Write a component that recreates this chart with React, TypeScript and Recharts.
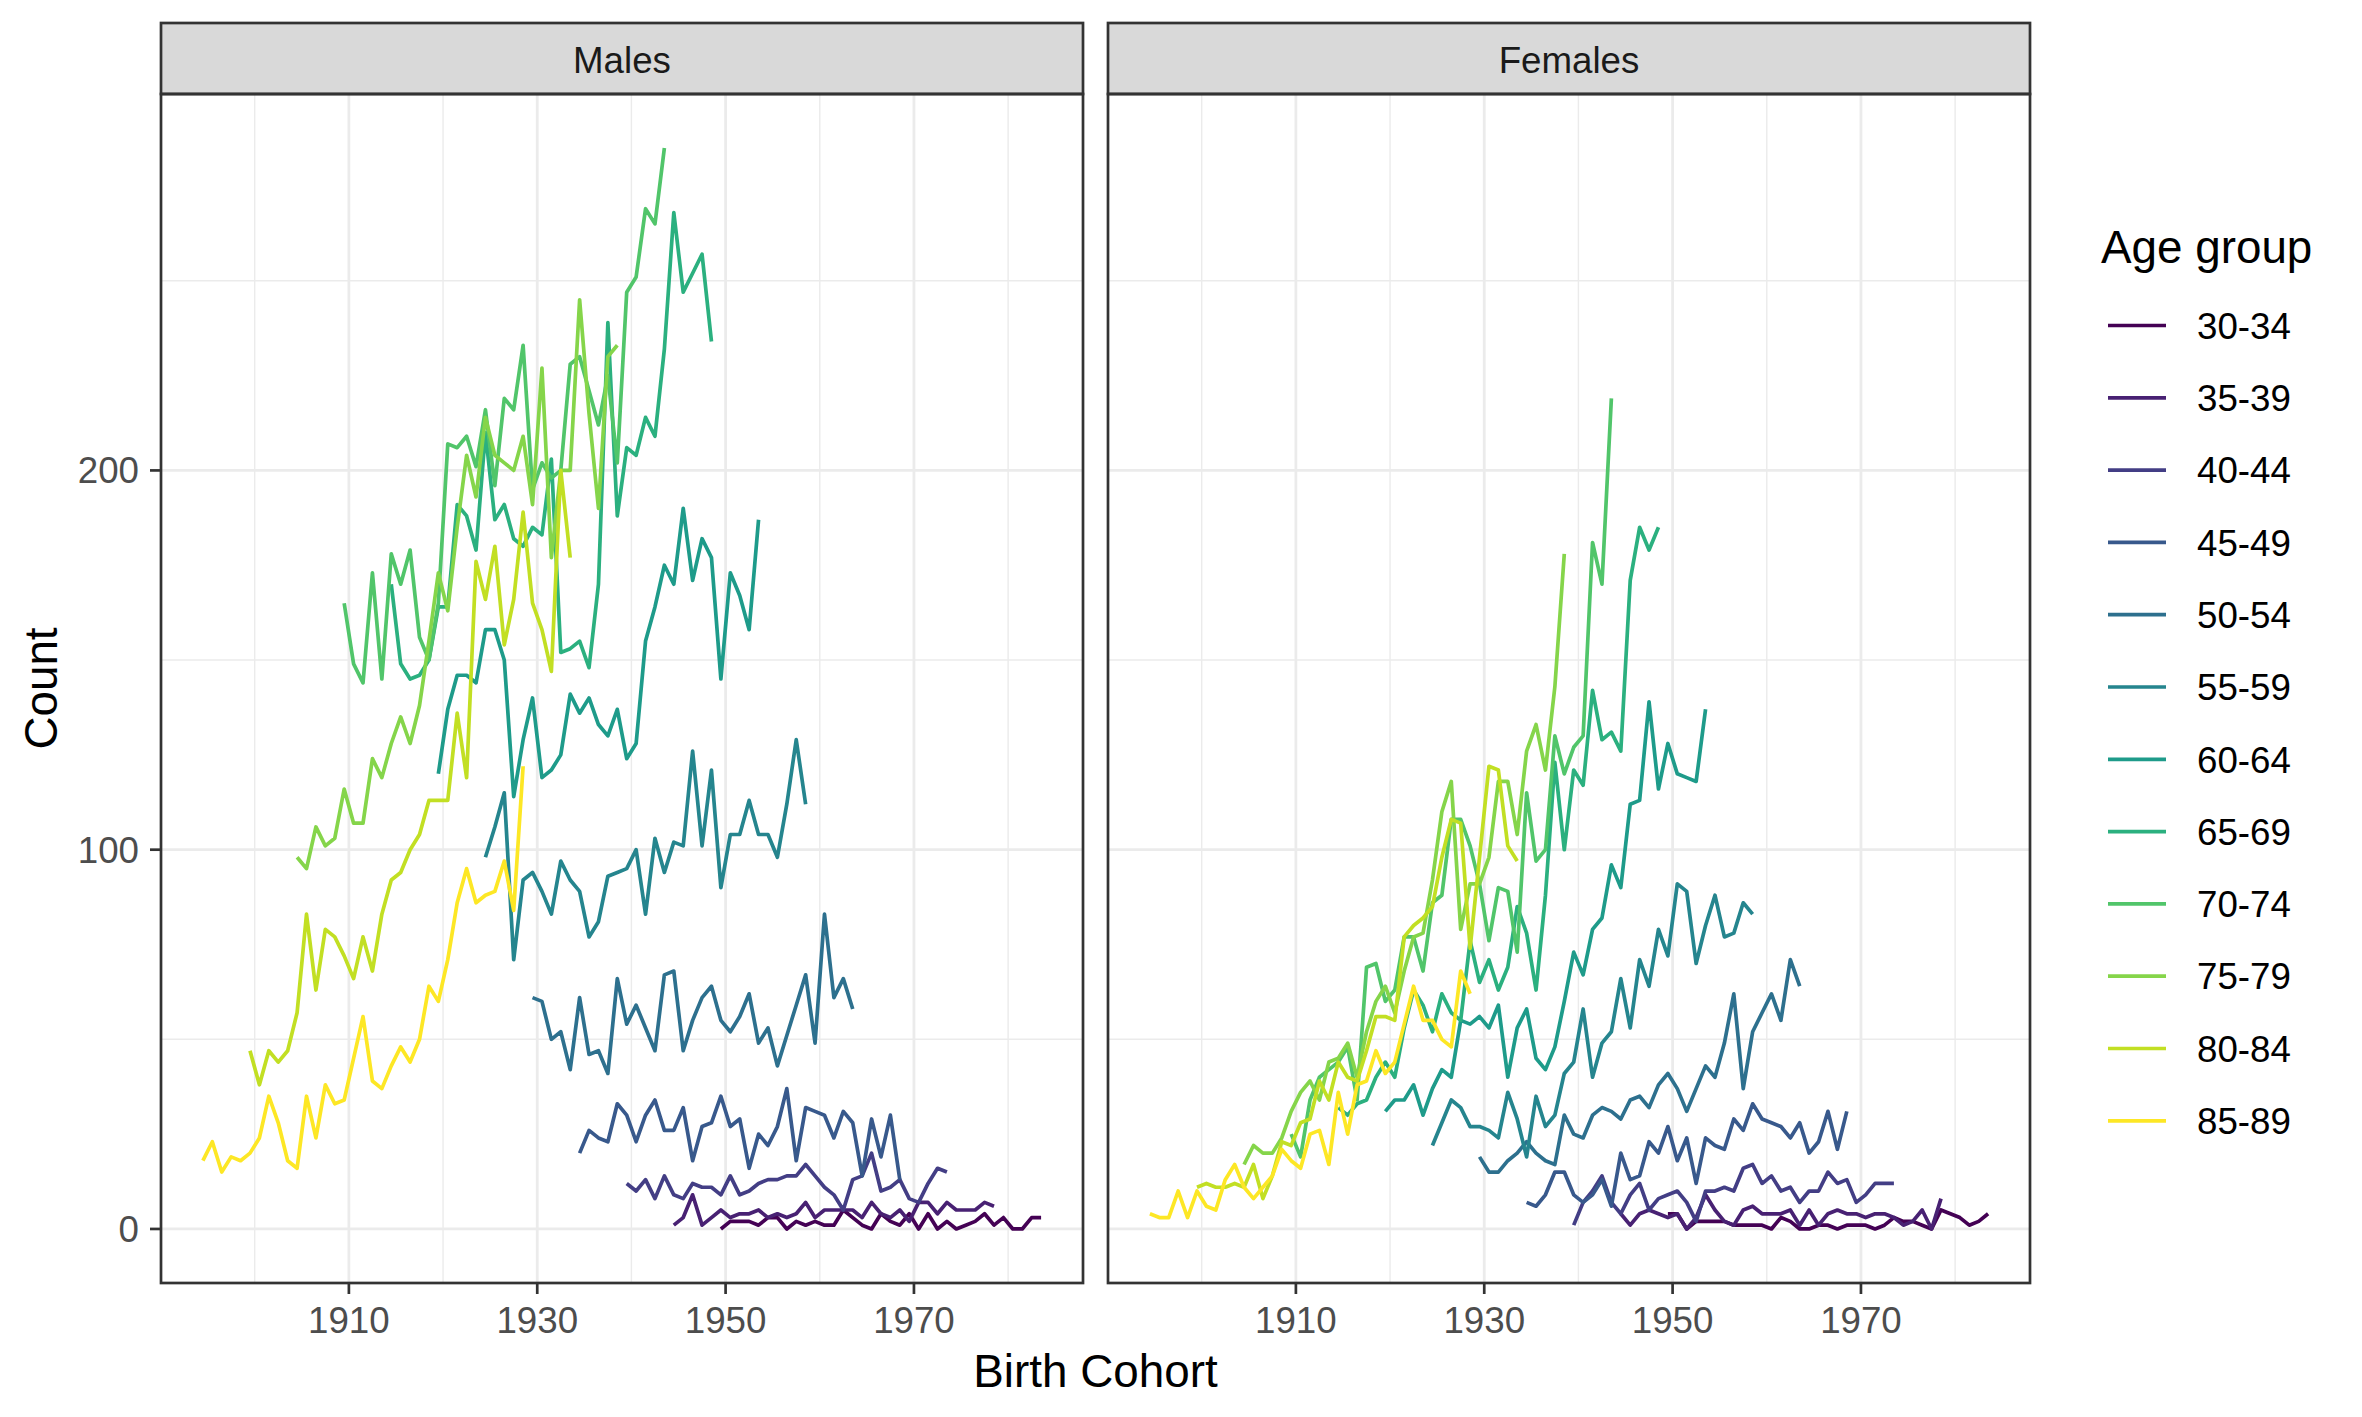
import React from 'react';
import { LineChart, Line, XAxis, YAxis, CartesianGrid } from 'recharts';

const AGE_GROUPS = ['30-34', '35-39', '40-44', '45-49', '50-54', '55-59', '60-64', '65-69', '70-74', '75-79', '80-84', '85-89'];
const GROUP_COLORS = ['#440154', '#482173', '#433E85', '#38598C', '#2D708E', '#25858E', '#1E9B8A', '#2BB07F', '#51C56A', '#85D54A', '#C2DF23', '#FDE725'];
// first birth cohort of each age group; every group covers 35 consecutive cohorts
const FIRST_COHORT = [1949.5, 1944.5, 1939.5, 1934.5, 1929.5, 1924.5, 1919.5, 1914.5, 1909.5, 1904.5, 1899.5, 1894.5];

const X_TICKS = [1910, 1930, 1950, 1970];
const X_MINOR = [1900, 1920, 1940, 1960, 1980];
const Y_TICKS = [0, 100, 200];
const Y_MINOR = [50, 150, 250];

// Males, counts by birth cohort
const males3034 = [0, 2, 2, 2, 1, 3, 3, 0, 2, 1, 2, 1, 1, 5, 3, 1, 0, 4, 2, 1, 4, 0, 4, 0, 2, 0, 1, 2, 4, 1, 3, 0, 0, 3, 3];
const males3539 = [1, 3, 9, 1, 3, 5, 3, 4, 4, 5, 3, 4, 3, 4, 7, 3, 5, 5, 5, 5, 3, 7, 4, 3, 5, 2, 7, 7, 4, 7, 5, 5, 5, 7, 6];
const males4044 = [12, 10, 13, 8, 14, 9, 8, 12, 11, 11, 9, 14, 9, 10, 12, 13, 13, 14, 14, 17, 14, 11, 9, 5, 13, 14, 20, 10, 11, 13, 8, 7, 12, 16, 15];
const males4549 = [20, 26, 24, 23, 33, 30, 23, 30, 34, 26, 26, 32, 18, 27, 28, 35, 27, 29, 16, 25, 22, 27, 37, 18, 32, 31, 30, 24, 31, 28, 14, 29, 19, 30, 13];
const males5054 = [61, 60, 50, 52, 42, 61, 46, 47, 41, 66, 54, 59, 53, 47, 67, 68, 47, 55, 61, 64, 55, 52, 56, 62, 49, 53, 43, 51, 59, 67, 49, 83, 61, 66, 58];
const males5559 = [98, 106, 115, 71, 92, 94, 89, 83, 97, 92, 89, 77, 81, 93, 94, 95, 100, 83, 103, 94, 102, 101, 126, 101, 121, 90, 104, 104, 113, 104, 104, 98, 112, 129, 112];
const males6064 = [120, 137, 146, 146, 144, 158, 158, 150, 114, 129, 140, 119, 121, 125, 141, 136, 140, 133, 130, 137, 124, 128, 155, 164, 175, 170, 190, 171, 182, 177, 145, 173, 167, 158, 187];
const males6569 = [170, 149, 145, 146, 150, 164, 164, 191, 188, 179, 210, 187, 191, 182, 180, 185, 183, 203, 152, 153, 155, 148, 170, 239, 188, 206, 204, 214, 209, 232, 268, 247, 252, 257, 234];
const males7074 = [165, 149, 144, 173, 145, 178, 170, 179, 156, 150, 165, 207, 206, 209, 201, 216, 196, 219, 216, 233, 195, 202, 198, 200, 228, 230, 221, 212, 225, 202, 247, 251, 269, 265, 285];
const males7579 = [98, 95, 106, 101, 103, 116, 107, 107, 124, 119, 128, 135, 128, 138, 155, 173, 163, 185, 204, 193, 214, 204, 202, 200, 209, 191, 227, 177, 200, 200, 245, 215, 190, 230, 233];
const males8084 = [47, 38, 47, 44, 47, 57, 83, 63, 79, 77, 72, 66, 77, 68, 83, 92, 94, 100, 104, 113, 113, 113, 136, 119, 176, 166, 180, 154, 166, 189, 165, 158, 147, 200, 177];
const males8589 = [18, 23, 15, 19, 18, 20, 24, 35, 28, 18, 16, 35, 24, 38, 33, 34, 45, 56, 39, 37, 43, 48, 44, 50, 64, 60, 71, 86, 95, 86, 88, 89, 97, 84, 122];

// Females, counts by birth cohort
const females3034 = [4, 4, 0, 2, 2, 2, 2, 1, 1, 1, 1, 0, 3, 2, 0, 0, 1, 1, 0, 1, 1, 1, 0, 1, 3, 2, 2, 1, 0, 5, 4, 3, 1, 2, 4];
const females3539 = [4, 1, 4, 5, 4, 3, 4, 0, 3, 9, 5, 2, 1, 5, 6, 4, 4, 4, 5, 1, 5, 1, 4, 5, 4, 4, 3, 4, 4, 3, 1, 2, 5, 0, 8];
const females4044 = [1, 7, 10, 14, 7, 4, 9, 12, 5, 8, 9, 10, 7, 2, 10, 10, 11, 10, 16, 17, 12, 14, 10, 11, 7, 10, 10, 15, 12, 13, 7, 9, 12, 12, 12];
const females4549 = [7, 6, 9, 15, 15, 9, 7, 9, 13, 6, 20, 13, 14, 23, 20, 27, 18, 24, 12, 24, 22, 21, 29, 26, 33, 29, 28, 27, 24, 28, 20, 23, 31, 21, 31];
const females5054 = [19, 15, 15, 18, 20, 23, 20, 18, 17, 30, 25, 24, 30, 32, 31, 29, 34, 35, 32, 38, 41, 37, 31, 37, 43, 40, 49, 62, 37, 52, 57, 62, 55, 71, 64];
const females5559 = [22, 28, 34, 32, 27, 27, 26, 24, 36, 29, 19, 35, 27, 30, 41, 44, 58, 40, 49, 52, 66, 53, 71, 64, 79, 72, 91, 89, 70, 80, 88, 77, 78, 86, 83];
const females6064 = [31, 34, 34, 38, 30, 37, 42, 40, 55, 54, 56, 53, 59, 40, 53, 58, 45, 42, 48, 60, 73, 67, 79, 82, 96, 90, 112, 113, 139, 116, 128, 120, 119, 118, 137];
const females6569 = [32, 30, 33, 34, 40, 44, 40, 53, 63, 59, 52, 62, 57, 55, 76, 65, 71, 63, 69, 85, 78, 63, 88, 123, 100, 121, 117, 142, 129, 131, 126, 171, 185, 179, 185];
const females7074 = [25, 19, 34, 40, 42, 44, 48, 34, 69, 70, 60, 63, 77, 77, 68, 86, 88, 108, 108, 101, 91, 76, 90, 89, 73, 115, 97, 100, 130, 120, 127, 130, 181, 170, 219];
const females7579 = [17, 22, 20, 20, 24, 31, 36, 39, 34, 44, 45, 49, 40, 52, 60, 64, 57, 68, 77, 78, 92, 110, 118, 79, 91, 91, 98, 118, 118, 104, 126, 133, 121, 143, 178];
const females8084 = [11, 12, 11, 11, 12, 11, 17, 8, 14, 23, 22, 28, 29, 39, 34, 44, 40, 39, 47, 56, 56, 55, 77, 80, 82, 85, 98, 108, 107, 74, 98, 122, 121, 101, 97];
const females8589 = [4, 3, 3, 10, 3, 10, 6, 5, 13, 17, 11, 8, 11, 14, 21, 18, 16, 25, 26, 17, 36, 25, 38, 39, 47, 41, 44, 54, 64, 55, 55, 50, 48, 68, 62];

const MALES = [males3034, males3539, males4044, males4549, males5054, males5559, males6064, males6569, males7074, males7579, males8084, males8589];
const FEMALES = [females3034, females3539, females4044, females4549, females5054, females5559, females6064, females6569, females7074, females7579, females8084, females8589];

const FONT = '"Liberation Sans", Arial, Helvetica, sans-serif';
const W = 2362;
const H = 1417;
const PLOT_TOP = 94;
const PLOT_H = 1189;
const PLOT_W = 922;
const STRIP_TOP = 23;
const X_AXIS_H = 70;
const Y_AXIS_W = 100;
const MALES_LEFT = 161;
const FEMALES_LEFT = 1108;
const BORDER = 2.7;

function toSeries(counts: number[][]) {
  return counts.map((vals, i) => ({
    name: AGE_GROUPS[i],
    color: GROUP_COLORS[i],
    points: vals.map((count, k) => ({ cohort: FIRST_COHORT[i] + k, count })),
  }));
}

function Facet({ series, left, withYAxis }: { series: ReturnType<typeof toSeries>; left: number; withYAxis: boolean }) {
  const yw = withYAxis ? Y_AXIS_W : 0;
  const tickStyle = { fill: '#4D4D4D', fontSize: 36.7, fontFamily: FONT };
  return (
    <div style={{ position: 'absolute', left: left - yw, top: PLOT_TOP }}>
      <LineChart width={PLOT_W + yw} height={PLOT_H + X_AXIS_H} margin={{ top: 0, right: 0, bottom: 0, left: 0 }}>
        <CartesianGrid horizontalValues={Y_MINOR} verticalValues={X_MINOR} stroke="#EBEBEB" strokeWidth={1.4} />
        <CartesianGrid horizontalValues={Y_TICKS} verticalValues={X_TICKS} stroke="#EBEBEB" strokeWidth={2.8} />
        <XAxis
          dataKey="cohort"
          type="number"
          domain={[1890.05, 1987.95]}
          ticks={X_TICKS}
          interval={0}
          allowDataOverflow
          axisLine={false}
          tickLine={{ stroke: '#333333', strokeWidth: BORDER }}
          tickSize={11}
          tickMargin={13}
          tick={tickStyle}
          height={X_AXIS_H}
        />
        <YAxis
          type="number"
          domain={[-14.25, 299.25]}
          ticks={Y_TICKS}
          interval={0}
          allowDataOverflow
          hide={!withYAxis}
          axisLine={false}
          tickLine={{ stroke: '#333333', strokeWidth: BORDER }}
          tickSize={11}
          tickMargin={11}
          tick={tickStyle}
          width={Y_AXIS_W}
        />
        {series.map((s) => (
          <Line
            key={s.name}
            data={s.points}
            dataKey="count"
            type="linear"
            stroke={s.color}
            strokeWidth={3.7}
            strokeLinejoin="round"
            dot={false}
            activeDot={false}
            isAnimationActive={false}
          />
        ))}
      </LineChart>
    </div>
  );
}

function Frame({ left, label }: { left: number; label: string }) {
  return (
    <g>
      <rect x={left} y={STRIP_TOP} width={PLOT_W} height={PLOT_TOP - STRIP_TOP} fill="#D9D9D9" stroke="#333333" strokeWidth={BORDER} />
      <text x={left + PLOT_W / 2} y={72.5} textAnchor="middle" fontSize={36.7} fill="#1A1A1A">{label}</text>
      <rect x={left} y={PLOT_TOP} width={PLOT_W} height={PLOT_H} fill="none" stroke="#333333" strokeWidth={BORDER} />
    </g>
  );
}

export default function App() {
  const males = toSeries(MALES);
  const females = toSeries(FEMALES);
  return (
    <div style={{ position: 'absolute', left: 0, top: 0, width: W, height: H, background: '#FFFFFF', fontFamily: FONT, overflow: 'hidden' }}>
      <Facet series={males} left={MALES_LEFT} withYAxis />
      <Facet series={females} left={FEMALES_LEFT} withYAxis={false} />
      <svg width={W} height={H} style={{ position: 'absolute', left: 0, top: 0, pointerEvents: 'none' }} fontFamily={FONT}>
        <Frame left={MALES_LEFT} label="Males" />
        <Frame left={FEMALES_LEFT} label="Females" />
        <text x={(MALES_LEFT + FEMALES_LEFT + PLOT_W) / 2} y={1387} textAnchor="middle" fontSize={45.8} fill="#000000">Birth Cohort</text>
        <text transform={`translate(57, ${PLOT_TOP + PLOT_H / 2}) rotate(-90)`} textAnchor="middle" fontSize={45.8} fill="#000000">Count</text>
        <text x={2101} y={263} fontSize={45.8} fill="#000000">Age group</text>
        {AGE_GROUPS.map((g, i) => {
          const cy = 325.5 + i * 72.3;
          return (
            <g key={g}>
              <line x1={2108} x2={2166} y1={cy} y2={cy} stroke={GROUP_COLORS[i]} strokeWidth={3.7} />
              <text x={2197} y={cy + 13.2} fontSize={36.7} fill="#000000">{g}</text>
            </g>
          );
        })}
      </svg>
    </div>
  );
}
